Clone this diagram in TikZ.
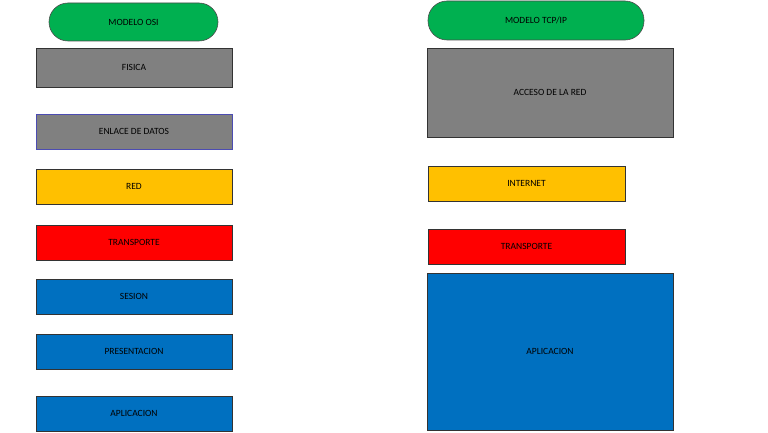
\documentclass[tikz,border=0pt]{standalone}
\usepackage{fontspec}
\setmainfont{Carlito}
\definecolor{g}{HTML}{00B050}
\definecolor{gr}{HTML}{808080}
\definecolor{yl}{HTML}{FFC000}
\definecolor{rd}{HTML}{FF0000}
\definecolor{bl}{HTML}{0070C0}
\begin{document}
\begin{tikzpicture}[x=1pt,y=-1pt,
  bx/.style={draw=black!80,line width=0.6pt,font=\fontsize{9.5}{11}\selectfont},
  pill/.style={draw=black!70,fill=g,rounded corners=19pt,line width=0.6pt,font=\fontsize{9.5}{11}\selectfont}]
\useasboundingbox (0,0) rectangle (768,433);
\newcommand{\bxx}[6]{\draw[bx,fill=#5] (#1,#2) rectangle (#3,#4) node[pos=.5,text=black] (#6) {\phantom{x}};}
\draw[pill] (49,3) rectangle (218,41) node[pos=.5] (osi) {MODELO OSI};
\draw[bx,fill=gr] (36,48) rectangle (232,87) node[pos=.5] (fis) {FISICA};
\draw[bx,fill=gr,draw=gray!60!blue] (36,114) rectangle (232,149) node[pos=.5] (enl) {ENLACE DE DATOS};
\draw[bx,fill=yl] (36,169) rectangle (232,204) node[pos=.5] (red) {RED};
\draw[bx,fill=rd] (36,225) rectangle (232,260) node[pos=.5] (tr) {TRANSPORTE};
\draw[bx,fill=bl] (36,279) rectangle (232,314) node[pos=.5] (ses) {SESION};
\draw[bx,fill=bl] (36,334) rectangle (232,369) node[pos=.5] (pre) {PRESENTACION};
\draw[bx,fill=bl] (36,396) rectangle (232,431) node[pos=.5] (apl) {APLICACION};
\draw[pill] (428,1) rectangle (644,40) node[pos=.5] (tcp) {MODELO TCP/IP};
\draw[bx,fill=gr] (427,48) rectangle (673,137) node[pos=.5] (acc) {ACCESO DE LA RED};
\draw[bx,fill=yl] (428,166) rectangle (625,201) node[pos=.5] (int) {INTERNET};
\draw[bx,fill=rd] (428,229) rectangle (625,264) node[pos=.5] (tr2) {TRANSPORTE};
\draw[bx,fill=bl] (427,273) rectangle (673,430) node[pos=.5] (apl2) {APLICACION};
\end{tikzpicture}
\end{document}
